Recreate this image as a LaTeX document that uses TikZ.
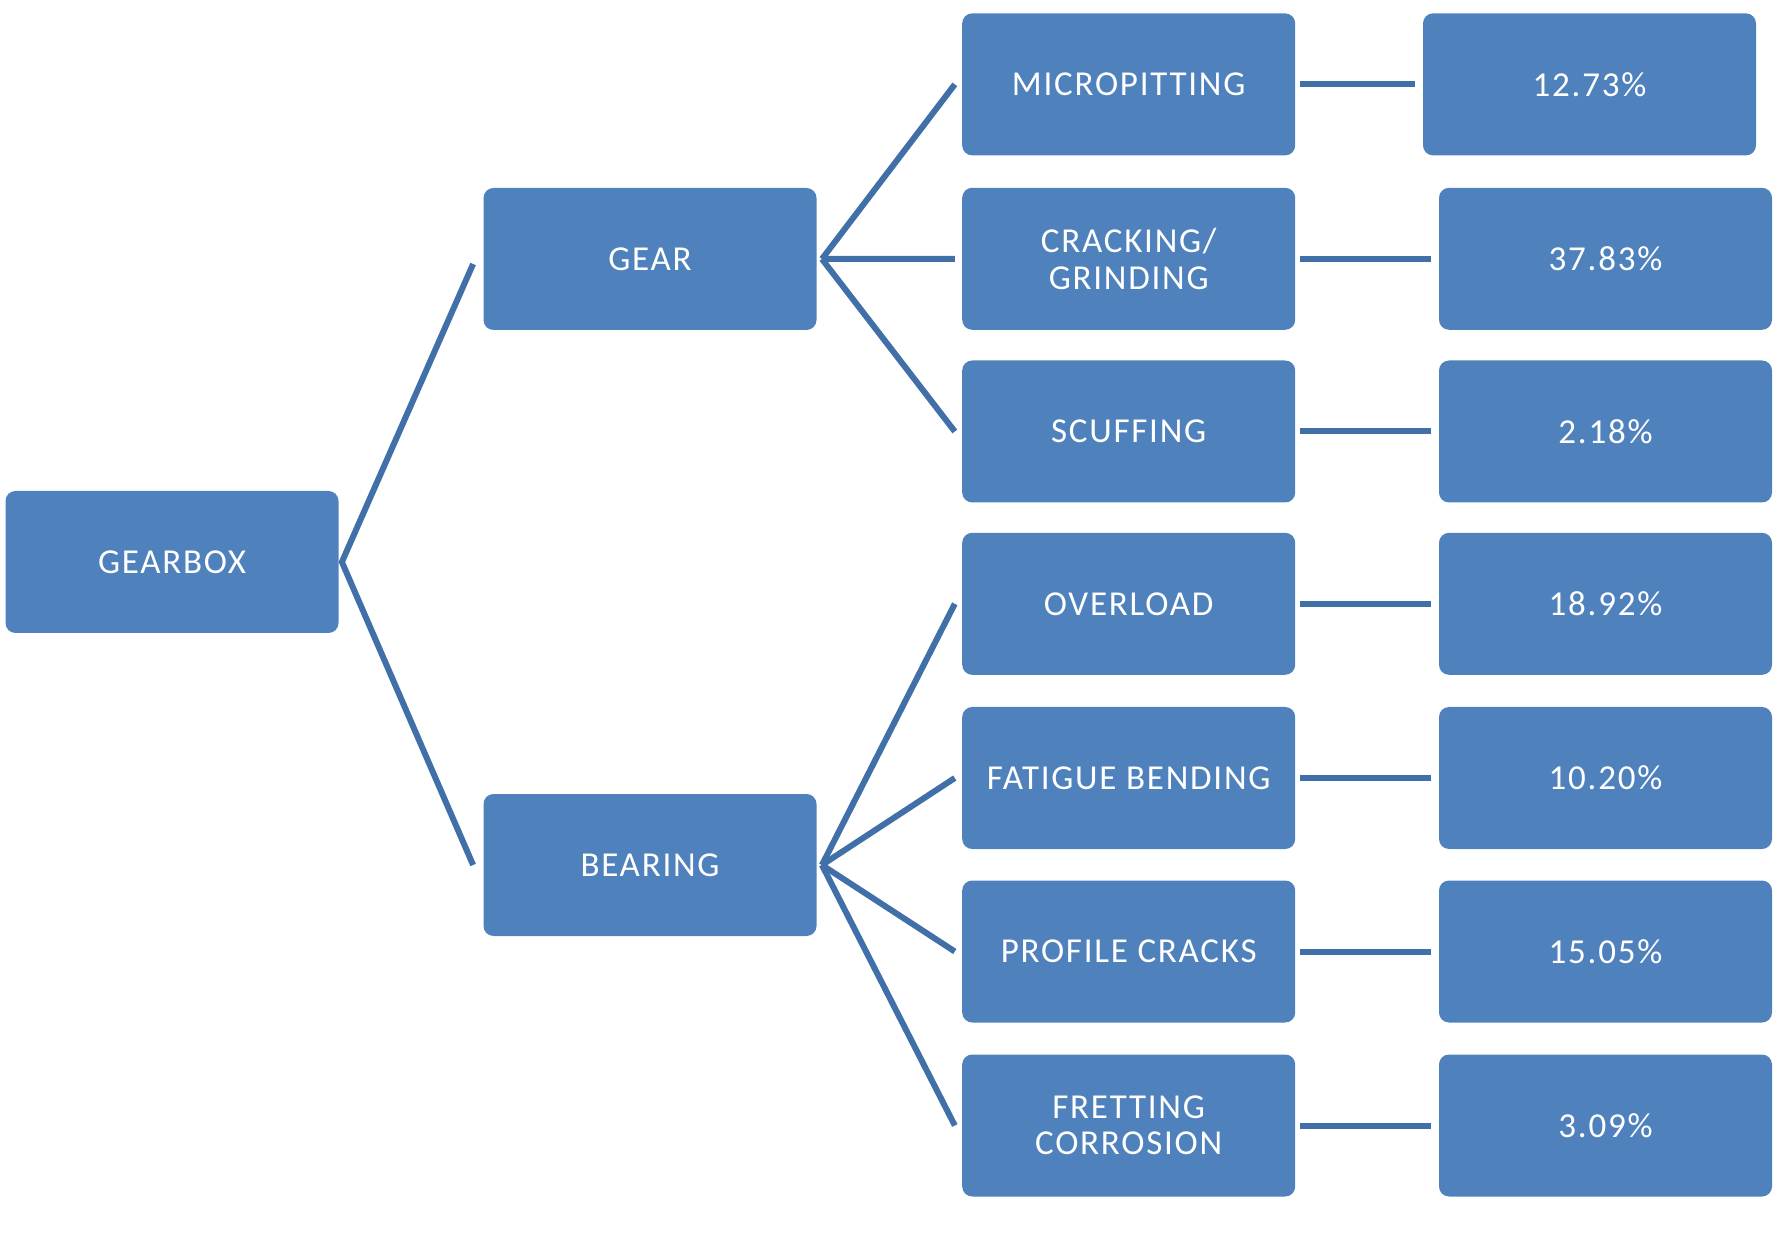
\documentclass[tikz,border=0pt]{standalone}
\usepackage{fontspec}
\setmainfont{Carlito}[LetterSpace=5]
\definecolor{boxblue}{HTML}{4F81BD}
\definecolor{lineblue}{HTML}{4170A9}
\begin{document}
\begin{tikzpicture}[x=0.5pt,y=-0.5pt,
  box/.style={draw=none,fill=boxblue,rounded corners=5pt,text=white,
    minimum width=166.5pt,minimum height=71pt,inner sep=0pt,align=center,
    font=\fontsize{17.5pt}{18.25pt}\selectfont},
  conn/.style={draw=lineblue,line width=3pt}]
\useasboundingbox (0,0) rectangle (1788,1234);
\node[box] (gearbox) at (172,562) {GEARBOX};
\node[box] (gear) at (650,259) {GEAR};
\node[box] (bearing) at (650,865) {BEARING};
\node[box] (m1) at (1128.7,84.4) {MICROPITTING};
\node[box] (m2) at (1128.7,258.8) {CRACKING/\\GRINDING};
\node[box] (m3) at (1128.7,431.5) {SCUFFING};
\node[box] (m4) at (1128.7,603.8) {OVERLOAD};
\node[box] (m5) at (1128.7,778) {FATIGUE BENDING};
\node[box] (m6) at (1128.7,951.5) {PROFILE CRACKS};
\node[box] (m7) at (1128.7,1125.5) {FRETTING\\CORROSION};
\node[box] (r1) at (1589.5,84.4) {12.73\%};
\node[box] (r2) at (1605.5,258.8) {37.83\%};
\node[box] (r3) at (1605.5,431.5) {2.18\%};
\node[box] (r4) at (1605.5,603.8) {18.92\%};
\node[box] (r5) at (1605.5,778) {10.20\%};
\node[box] (r6) at (1605.5,951.5) {15.05\%};
\node[box] (r7) at (1605.5,1125.5) {3.09\%};
\coordinate (v0) at ([xshift=1.5pt]gearbox.east);
\coordinate (v1) at ([xshift=2.5pt]gear.east);
\coordinate (v2) at ([xshift=2.5pt]bearing.east);
\draw[conn] ([xshift=-5pt,yshift=-2.5pt]gear.west) -- (v0) -- ([xshift=-5pt]bearing.west);
\foreach \m in {m1,m2,m3}{\draw[conn] (v1) -- ([xshift=-3.5pt]\m.west);}
\foreach \m in {m4,m5,m6,m7}{\draw[conn] (v2) -- ([xshift=-3.5pt]\m.west);}
\foreach \i in {1,...,7}{\draw[conn] ([xshift=2.25pt]m\i.east) -- ([xshift=-4pt]r\i.west);}
\end{tikzpicture}
\end{document}
